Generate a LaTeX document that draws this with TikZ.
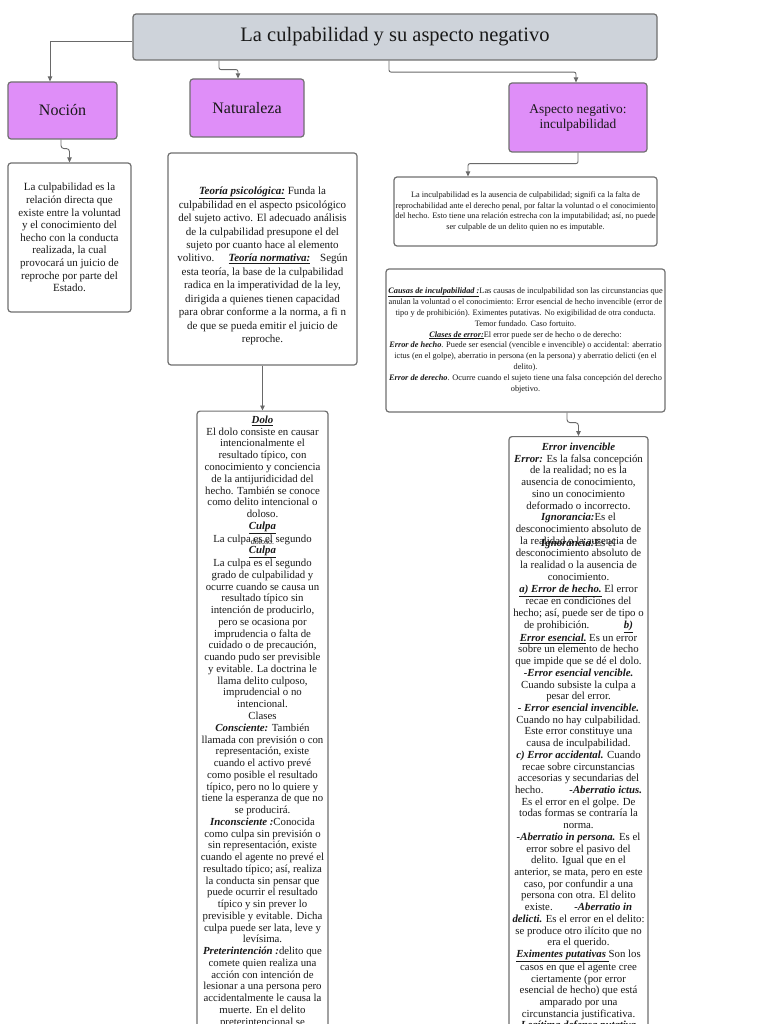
\documentclass[tikz,border=0pt]{standalone}
\usepackage{fontspec}
\setmainfont{Liberation Serif}
\usetikzlibrary{arrows.meta}
\definecolor{titlefill}{RGB}{206,211,218}
\definecolor{violetfill}{RGB}{223,142,248}
\definecolor{bordergray}{RGB}{112,112,112}
\definecolor{conngray}{RGB}{105,105,105}
\definecolor{txt}{RGB}{25,25,25}
\newcommand{\bitx}[1]{\textbf{\textit{#1}}}
\newcommand{\ubitx}[1]{\underline{\textbf{\textit{#1}}}}
\tikzset{
  box/.style={draw=bordergray, line width=1.2pt, rounded corners=3pt, inner sep=0pt, text=txt},
  titlebox/.style={box, fill=titlefill},
  headbox/.style={box, fill=violetfill},
  textbox/.style={box, fill=white},
  conn/.style={draw=conngray, line width=0.9pt, -{Triangle[length=5pt,width=4.5pt]}},
  bodytext/.style={align=center, inner sep=0pt, text=txt}
}
\begin{document}
\begin{tikzpicture}[x=1pt,y=-1pt]
\useasboundingbox (0,0) rectangle (768,1024);
\clip (0,0) rectangle (768,1024);
\fill[white] (0,0) rectangle (768,1024);

% title
\node[titlebox, minimum width=524pt, minimum height=46pt, font=\fontsize{20.5}{24}\selectfont] (title) at (395,37) {La culpabilidad y su aspecto negativo};

% heads
\node[headbox, minimum width=109pt, minimum height=57pt, font=\fontsize{16}{19}\selectfont] (nocion) at (62.5,110.5) {Noción};
\node[headbox, minimum width=114pt, minimum height=58pt, font=\fontsize{16}{19}\selectfont] (natur) at (247,108) {Naturaleza};
\node[headbox, minimum width=138pt, minimum height=69pt, align=center, font=\fontsize{13.4}{15}\selectfont] (aspecto) at (578,117.5) {Aspecto negativo:\\inculpabilidad};

% Noción text
\node[textbox, minimum width=123pt, minimum height=149pt, align=center, font=\fontsize{11}{12.6}\selectfont] (noctext) at (69.5,237.5) {La culpabilidad es la\\
relación directa que\\
existe entre la voluntad\\
y el conocimiento del\\
hecho con la conducta\\
realizada, la cual\\
provocará un juicio de\\
reproche por parte del\\
Estado.};

% Naturaleza text
\node[textbox, minimum width=189pt, minimum height=212pt] (naturbox) at (262.5,259) {};
\node[bodytext, font=\fontsize{11}{13.45}\selectfont] (naturtext) at (262.5,266) {\ubitx{Teoría psicológica:} Funda la\\
culpabilidad en el aspecto psicológico\\
del sujeto activo. El adecuado análisis\\
de la culpabilidad presupone el del\\
sujeto por cuanto hace al elemento\\
volitivo.\hspace{1.3em}\ubitx{Teoría normativa:}\hspace{0.9em}Según\\
esta teoría, la base de la culpabilidad\\
radica en la imperatividad de la ley,\\
dirigida a quienes tienen capacidad\\
para obrar conforme a la norma, a fi n\\
de que se pueda emitir el juicio de\\
reproche.};

% Inculpabilidad text
\node[textbox, minimum width=263pt, minimum height=69pt, align=center, font=\fontsize{8.3}{10.8}\selectfont] (inculp) at (525.5,211.5) {La inculpabilidad es la ausencia de culpabilidad; signifi ca la falta de\\
reprochabilidad ante el derecho penal, por faltar la voluntad o el conocimiento\\
del hecho. Esto tiene una relación estrecha con la imputabilidad; así, no puede\\
ser culpable de un delito quien no es imputable.};

% Causas
\node[textbox, minimum width=279pt, minimum height=143pt, align=center, font=\fontsize{8.3}{10.9}\selectfont] (causas) at (525.5,340.5) {\ubitx{Causas de inculpabilidad :}Las causas de inculpabilidad son las circunstancias que\\
anulan la voluntad o el conocimiento: Error esencial de hecho invencible (error de\\
tipo y de prohibición). Eximentes putativas. No exigibilidad de otra conducta.\\
Temor fundado. Caso fortuito.\\
\ubitx{Clases de error:}El error puede ser de hecho o de derecho:\\
\bitx{Error de hecho}. Puede ser esencial (vencible e invencible) o accidental: aberratio\\
ictus (en el golpe), aberratio in persona (en la persona) y aberratio delicti (en el\\
delito).\\
\bitx{Error de derecho}. Ocurre cuando el sujeto tiene una falsa concepción del derecho\\
objetivo.};

% Dolo column
\node[textbox, anchor=north, minimum width=131pt, minimum height=700pt] (dolo) at (262.5,410.5) {};
\node[bodytext, anchor=north, font=\fontsize{10.8}{11.76}\selectfont] (dolotext) at (262.5,415) {\strut\ubitx{Dolo}\\
El dolo consiste en causar\\
intencionalmente el\\
resultado típico, con\\
conocimiento y conciencia\\
de la antijuridicidad del\\
hecho. También se conoce\\
como delito intencional o\\
doloso.\\
\ubitx{Culpa}\\
\ooalign{La culpa es el segundo\cr\hfil\raisebox{-2pt}{\fontsize{8}{8}\selectfont doloso.}\hfil\cr}\\
\ubitx{Culpa}\\
La culpa es el segundo\\
grado de culpabilidad y\\
ocurre cuando se causa un\\
resultado típico sin\\
intención de producirlo,\\
pero se ocasiona por\\
imprudencia o falta de\\
cuidado o de precaución,\\
cuando pudo ser previsible\\
y evitable. La doctrina le\\
llama delito culposo,\\
imprudencial o no\\
intencional.\\
Clases\\
\bitx{Consciente:} También\\
llamada con previsión o con\\
representación, existe\\
cuando el activo prevé\\
como posible el resultado\\
típico, pero no lo quiere y\\
tiene la esperanza de que no\\
se producirá.\\
\bitx{Inconsciente :}Conocida\\
como culpa sin previsión o\\
sin representación, existe\\
cuando el agente no prevé el\\
resultado típico; así, realiza\\
la conducta sin pensar que\\
puede ocurrir el resultado\\
típico y sin prever lo\\
previsible y evitable. Dicha\\
culpa puede ser lata, leve y\\
levísima.\\
\bitx{Preterintención :}delito que\\
comete quien realiza una\\
acción con intención de\\
lesionar a una persona pero\\
accidentalmente le causa la\\
muerte. En el delito\\
preterintencional se};

% Right column
\node[textbox, anchor=north, minimum width=139pt, minimum height=700pt] (rcol) at (578.5,436) {};
\node[bodytext, anchor=north, font=\fontsize{10.8}{11.72}\selectfont] (rcoltext) at (578.5,442) {\strut\bitx{Error invencible}\\
\bitx{Error:} Es la falsa concepción\\
de la realidad; no es la\\
ausencia de conocimiento,\\
sino un conocimiento\\
deformado o incorrecto.\\
\bitx{Ignorancia:}Es el\\
desconocimiento absoluto de\\
\ooalign{la realidad o la ausencia de\cr\hfil\raisebox{-2pt}{\bitx{Ignorancia:}Es el}\hfil\cr}\\
desconocimiento absoluto de\\
la realidad o la ausencia de\\
conocimiento.\\
\ubitx{a) Error de hecho.} El error\\
recae en condiciones del\\
hecho; así, puede ser de tipo o\\
de prohibición.\hspace{3.2em}\ubitx{b)}\\
\ubitx{Error esencial.} Es un error\\
sobre un elemento de hecho\\
que impide que se dé el dolo.\\
\bitx{-Error esencial vencible.}\\
Cuando subsiste la culpa a\\
pesar del error.\\
\bitx{- Error esencial invencible.}\\
Cuando no hay culpabilidad.\\
Este error constituye una\\
causa de inculpabilidad.\\
\bitx{c) Error accidental.} Cuando\\
recae sobre circunstancias\\
accesorias y secundarias del\\
hecho.\hspace{2.4em}\bitx{-Aberratio ictus.}\\
Es el error en el golpe. De\\
todas formas se contraría la\\
norma.\\
\bitx{-Aberratio in persona.} Es el\\
error sobre el pasivo del\\
delito. Igual que en el\\
anterior, se mata, pero en este\\
caso, por confundir a una\\
persona con otra. El delito\\
existe.\hspace{2em}\bitx{-Aberratio in}\\
\bitx{delicti.} Es el error en el delito:\\
se produce otro ilícito que no\\
era el querido.\\
\ubitx{Eximentes putativas }Son los\\
casos en que el agente cree\\
ciertamente (por error\\
esencial de hecho) que está\\
amparado por una\\
circunstancia justificativa.\\
\bitx{Legítima defensa putativa}};

% connectors
\draw[conn] ([yshift=-4pt]title.west) -| ([xshift=-12.5pt]nocion.north);
\draw[conn, rounded corners=2pt] ([xshift=-176pt]title.south) -- ++(0,9) -| ([xshift=-9pt]natur.north);
\draw[conn, rounded corners=2pt] ([xshift=-6pt]title.south) -- ++(0,11.5) -| ([xshift=-2pt]aspecto.north);
\draw[conn, rounded corners=2pt] (aspecto.south) -- ++(0,11) -| ([xshift=-57.5pt]inculp.north);
\draw[conn, rounded corners=3pt] ([xshift=-1.5pt]nocion.south) -- ++(0,9) -| (noctext.north);
\draw[conn] (naturbox.south) -- (dolo.north);
\draw[conn, rounded corners=3pt] ([xshift=41.5pt]causas.south) -- ++(0,10) -| (rcol.north);
\end{tikzpicture}
\end{document}
